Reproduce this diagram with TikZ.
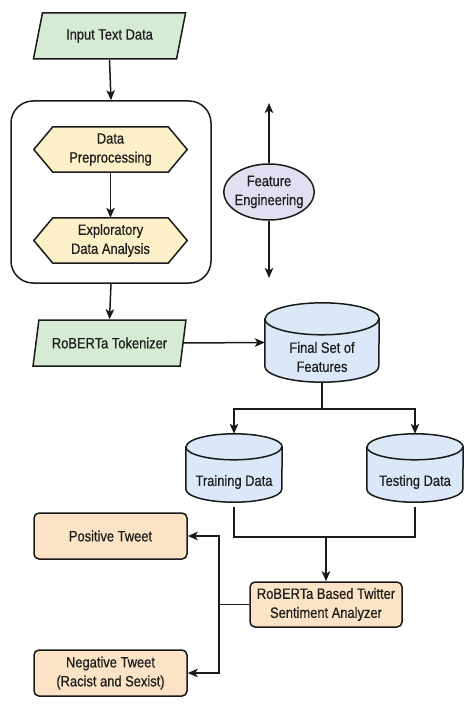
\documentclass[tikz,border=0pt]{standalone}
\usepackage{fontspec}
\setmainfont[FakeStretch=0.86,FakeBold=0.6]{Liberation Sans}
\usetikzlibrary{shapes.geometric,arrows.meta,calc}
\definecolor{cgreen}{HTML}{D6EBD4}
\definecolor{cyellow}{HTML}{FCF0C8}
\definecolor{clav}{HTML}{E3DFF2}
\definecolor{cblue}{HTML}{DBE8F8}
\definecolor{cpeach}{HTML}{FCE3C6}
\definecolor{cline}{HTML}{1A1A1A}
\definecolor{ctext}{HTML}{1E1E1E}
\newcommand\drawcyl[3]{%
  \filldraw[cylshape] ([yshift=-#3]#1.north west) -- ([yshift=#3]#1.south west)
    arc[start angle=180,end angle=360,x radius=#2,y radius=#3]
    -- ([yshift=-#3]#1.north east)
    arc[start angle=0,end angle=180,x radius=#2,y radius=#3] -- cycle;
  \draw[cylshape] ([yshift=-#3]#1.north west) arc[start angle=180,end angle=360,x radius=#2,y radius=#3];}
\newcommand\drawhex[2]{%
  \filldraw[hexshape] (#1.west) -- ([xshift=#2]#1.north west) -- ([xshift=-#2]#1.north east)
    -- (#1.east) -- ([xshift=-#2]#1.south east) -- ([xshift=#2]#1.south west) -- cycle;}
\begin{document}
\begin{tikzpicture}[x=1pt,y=-1pt,
  every node/.style={font=\fontsize{15}{19}\selectfont, text=ctext, align=center},
  base/.style={draw=cline, line width=1.5pt, inner sep=0pt},
  para/.style={base, trapezium, trapezium left angle=66.5, trapezium right angle=113.5,
     trapezium stretches=true, minimum width=153pt, minimum height=46pt, fill=cgreen},
  hexbody/.style={inner sep=0pt, minimum width=153pt, minimum height=45pt},
  hexshape/.style={draw=cline, line width=1.5pt, fill=cyellow, line join=miter},
  fe/.style={base, ellipse, inner xsep=-2.5pt, minimum width=90pt, minimum height=56pt, fill=clav},
  grpbox/.style={draw=cline, line width=1.5pt, rounded corners=22pt, minimum width=200pt, minimum height=182pt},
  cylbody/.style={inner sep=0pt},
  cylshape/.style={draw=cline, line width=1.5pt, fill=cblue},
  outbox/.style={base, rectangle, rounded corners=5pt, minimum width=153pt, minimum height=46pt, fill=cpeach},
  conn/.style={draw=cline, line width=1.5pt},
  arr/.style={conn, -{Stealth[length=10pt,width=8.5pt,inset=2.5pt]}}
]
\useasboundingbox (0,0) rectangle (474,708);

% top part
\node[para] (in) at (109.5,36) {Input Text Data};
\node[grpbox] (grp) at (111,192) {};
\node[hexbody] (dp) at (110.5,149.5) {};
\drawhex{dp}{19pt}
\node (dpt) at (dp) {Data\\Preprocessing};
\node[hexbody] (eda) at (110.5,240.5) {};
\drawhex{eda}{19pt}
\node (edat) at (eda) {Exploratory\\Data Analysis};
\node[fe] (feat) at (269,192) {Feature\\Engineering};
\coordinate (feup) at (269,103);
\coordinate (fedn) at (269,278);
\node[para] (tok) at (109.5,343) {RoBERTa Tokenizer};

% cylinders
\node[cylbody, minimum width=114pt, minimum height=79pt] (fs) at (322,342.5) {};
\drawcyl{fs}{57pt}{16pt}
\node (fst) at (322,357) {Final Set of\\Features};
\node[cylbody, minimum width=96pt, minimum height=68pt] (tr) at (234,468) {};
\drawcyl{tr}{48pt}{13pt}
\node (trt) at (234,482) {Training Data};
\node[cylbody, minimum width=96pt, minimum height=68pt] (te) at (415,468) {};
\drawcyl{te}{48pt}{13pt}
\node (tet) at (415,482) {Testing Data};

% bottom
\node[outbox, minimum width=152pt, minimum height=45pt] (an) at (326,604.5) {RoBERTa Based Twitter\\Sentiment Analyzer};
\node[outbox] (pos) at (110.5,536) {Positive Tweet};
\node[outbox] (neg) at (110.5,673) {Negative Tweet\\(Racist and Sexist)};

% connectors
\draw[arr] (in.south) -- (grp.north);
\draw[arr] (dp.south) -- (eda.north);
\draw[arr] (grp.south) -- (tok.north);
\draw[arr] (feat.north) -- (feup);
\draw[arr] (feat.south) -- (fedn);
\draw[arr] (tok.east) -- (fs.west);
\coordinate (sp) at (322,409);
\draw[conn] (fs.south) -- (sp);
\draw[arr] (sp) -| (tr.north);
\draw[arr] (sp) -| (te.north);
\coordinate (mg) at (326,537);
\draw[conn] ([yshift=-5pt]tr.south) |- (mg);
\draw[conn] ([yshift=-5pt]te.south) |- (mg);
\draw[arr] (mg) -- (an.north);
\coordinate (jn) at (219,604.5);
\draw[conn] (an.west) -- (jn);
\draw[arr] (jn) |- (pos.east);
\draw[arr] (jn) |- (neg.east);
\end{tikzpicture}
\end{document}
